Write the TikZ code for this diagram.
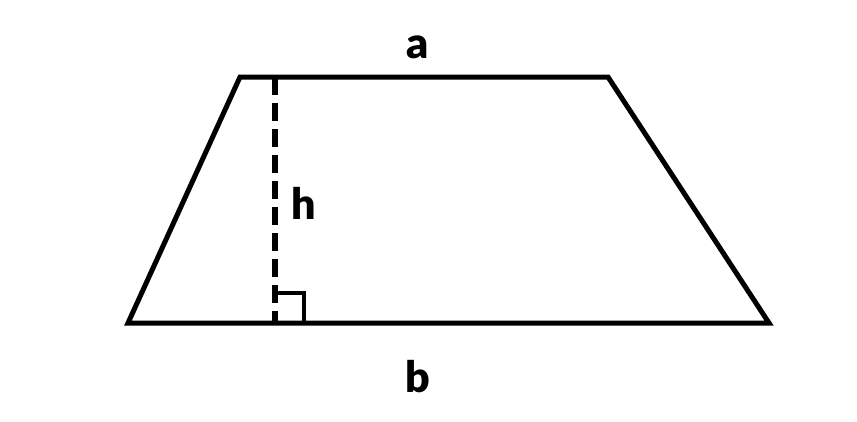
\documentclass[tikz,border=0pt]{standalone}
\usepackage{fontspec}
\setmainfont{Lato}[BoldFont={Lato Black}]
\begin{document}
\begin{tikzpicture}[x=1pt,y=-1pt,
  edge/.style={line width=5pt},
  hdash/.style={line width=5.5pt, dash pattern=on 18pt off 8pt},
  rmark/.style={line width=4pt},
  lbl/.style={font=\fontsize{43}{43}\selectfont\bfseries, inner sep=0pt}]
\useasboundingbox (0,0) rectangle (857,421);
\coordinate (TL) at (240,77);
\coordinate (TR) at (608,77);
\coordinate (BR) at (769,323);
\coordinate (BL) at (128,323);
\coordinate (HT) at (275,77);
\coordinate (HB) at (275,323);
\coordinate (R1) at (275,293);
\coordinate (R2) at (304,293);
\coordinate (R3) at (304,323);
\draw[hdash] (HT) -- (HB);
\draw[rmark] (R1) -- (R2) -- (R3);
\draw[edge] (TL) -- (TR) -- (BR) -- (BL) -- cycle;
\node[lbl] (a) at (418,47) {a};
\node[lbl] (h) at (304,203) {h};
\node[lbl] (b) at (418,377) {b};
\end{tikzpicture}
\end{document}
